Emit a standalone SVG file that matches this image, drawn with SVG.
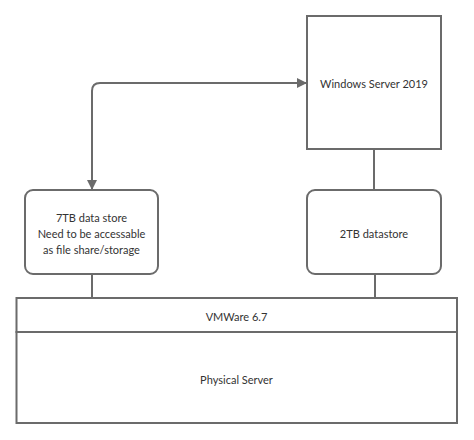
<svg xmlns="http://www.w3.org/2000/svg" width="474" height="440" viewBox="0 0 474 440">
<defs>
<style>
.box{fill:#fff;stroke:#6b6b6b;stroke-width:2}
.ln{fill:none;stroke:#6b6b6b;stroke-width:2}
text{font-family:Lato,"Liberation Sans",sans-serif;font-size:11px;fill:#333;text-anchor:middle;dominant-baseline:central}
</style>
<marker id="ah" markerWidth="10" markerHeight="10" refX="9" refY="5" orient="auto-start-reverse" markerUnits="userSpaceOnUse">
<path d="M0,0 L10,5 L0,10 Z" fill="#6b6b6b"/>
</marker>
</defs>
<rect width="474" height="440" fill="#fff"/>
<g id="windows">
<rect class="box" x="307" y="16" width="134" height="133"/>
<text x="374" y="83">Windows Server 2019</text>
</g>
<g id="store7">
<rect class="box" x="25" y="190" width="133" height="84" rx="8"/>
<text x="91.5" y="217">7TB data store</text>
<text x="91.5" y="233">Need to be accessable</text>
<text x="91.5" y="249">as file share/storage</text>
</g>
<g id="store2">
<rect class="box" x="307" y="190" width="134" height="84" rx="8"/>
<text x="374" y="233">2TB datastore</text>
</g>
<g id="vmware">
<rect class="box" x="16.5" y="298" width="440.5" height="34"/>
<text x="236.5" y="316">VMWare 6.7</text>
</g>
<g id="physical">
<rect class="box" x="16.5" y="332" width="440.5" height="91"/>
<text x="236.5" y="379">Physical Server</text>
</g>
<g id="connectors">
<path class="ln" d="M306,83 H100 Q92,83 92,91 V189" marker-start="url(#ah)" marker-end="url(#ah)"/>
<line class="ln" x1="374" y1="150" x2="374" y2="189"/>
<line class="ln" x1="92" y1="275" x2="92" y2="297"/>
<line class="ln" x1="375" y1="275" x2="375" y2="297"/>
</g>
</svg>
